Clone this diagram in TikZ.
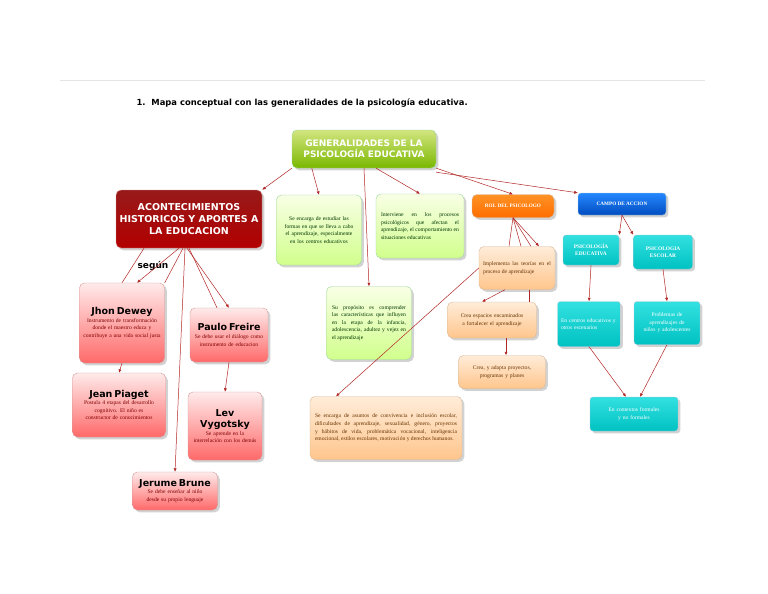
\documentclass[tikz,border=0pt]{standalone}
\usepackage{fontspec}
\setmainfont{Liberation Serif}
\newfontfamily\hd{DejaVu Sans}
\usetikzlibrary{shadows,arrows.meta}
\hyphenpenalty=10000
\exhyphenpenalty=10000
\newcommand\nmf{\hd\bfseries\fontsize{9.5}{11.5}\selectfont}
\begin{document}
\begin{tikzpicture}[x=1pt,y=-1pt,
 box/.style={draw=#1!60!black!40,rounded corners=5pt,drop shadow={opacity=0.35},align=center,inner sep=2pt,font=\fontsize{5.6}{7.6}\selectfont},
 rbox/.style={box=red,top color=red!8,bottom color=red!45!pink,text=red!50!black},
 gbox/.style={box=green,top color=lime!10!white,bottom color=lime!80!green!45,text=green!20!black},
 obox/.style={box=orange,top color=orange!15,bottom color=orange!45,text=orange!40!black},
 bbox/.style={box=cyan,top color=cyan!70!teal!80,bottom color=cyan!60!teal!95!black,text=white,rounded corners=3pt},
 ar/.style={draw=red!65!black!85,-{Latex[length=3.5pt,width=3pt]},line width=0.5pt},
 ln/.style={draw=red!65!black!85,line width=0.5pt}]
\useasboundingbox (0,0) rectangle (768,594);
\fill[white] (0,0) rectangle (768,594);
\draw[gray!20,line width=0.8pt] (60,80) -- (705,80);
\node[anchor=west,font=\hd\bfseries\fontsize{8.4}{10}\selectfont] (title) at (133,103) {1.\ \ Mapa conceptual con las generalidades de la psicología educativa.};

\node[box=green,top color=lime!60!olive!50,bottom color=olive!70!green!80,text=white,minimum width=144,minimum height=38,font=\hd\bfseries\fontsize{9}{11}\selectfont] (root) at (364,149) {GENERALIDADES DE LA\\PSICOLOGÍA EDUCATIVA};

\node[box=red,top color=red!55!black!90,bottom color=red!70!black,text=white,minimum width=146,minimum height=58,font=\hd\bfseries\fontsize{9.5}{12}\selectfont] (acon) at (189,219) {ACONTECIMIENTOS\\HISTORICOS Y APORTES A\\LA EDUCACION};
\node[font=\hd\bfseries\fontsize{9}{10}\selectfont] (seg) at (153,266) {según};

\node[rbox,minimum width=85,minimum height=80,text width=78] (dew) at (122,323) {{\nmf\color{black} Jhon Dewey\par}Instrumento de transformación donde el maestro educa y contribuye a una vida social justa};
\node[rbox,minimum width=78,minimum height=54,text width=72] (fre) at (229,335) {{\nmf\color{black} Paulo Freire\par}Se debe usar el diálogo como instrumento de educacion};
\node[rbox,minimum width=93,minimum height=64,text width=82] (pia) at (119,405) {{\nmf\color{black} Jean Piaget\par}Postula 4 etapas del desarrollo cognitivo. El niño es constructor de conocimientos};
\node[rbox,minimum width=74,minimum height=68,text width=68] (lev) at (225,426) {{\nmf\color{black} Lev\\Vygotsky\par}Se aprende en la interrelación con los demás};
\node[rbox,minimum width=85,minimum height=38,text width=80] (jer) at (175,491) {{\nmf\color{black} Jerume Brune\par}Se debe enseñar al niño desde su propio lenguaje};

\node[gbox,minimum width=85,minimum height=70,text width=72] (g1) at (319,230) {Se encarga de estudiar las formas en que se lleva a cabo el aprendizaje, especialmente en los centros educativos};
\node[gbox,minimum width=88,minimum height=64,text width=78,align=justify] (g2) at (420,226) {Interviene en los procesos psicológicos que afectan el aprendizaje, el comportamiento en situaciones educativas};
\node[gbox,minimum width=85,minimum height=73,text width=74,align=justify] (g3) at (369,323) {Su propósito es comprender las características que influyen en la etapa de la infancia, adolescencia, adultez y vejez en el aprendizaje};

\node[box=orange,top color=orange!85,bottom color=orange!85!red,text=white,minimum width=82,minimum height=23,font=\bfseries\fontsize{5.2}{6}\selectfont] (rol) at (513,206) {ROL DEL PSICOLOGO};
\node[obox,minimum width=76,minimum height=43,text width=68,align=justify] (imp) at (517,268) {Implementa las teorías en el proceso de aprendizaje};
\node[obox,minimum width=89,minimum height=36,text width=82] (esp) at (492,320) {Crea espacios encaminados a fortalecer el aprendizaje};
\node[obox,minimum width=87,minimum height=33,text width=78] (ada) at (502,372) {Crea, y adapta proyectos, programas y planes};
\node[obox,minimum width=152,minimum height=63,text width=142,align=justify] (asu) at (386,428) {Se encarga de asuntos de convivencia e inclusión escolar, dificultades de aprendizaje, sexualidad, género, proyectos y hábitos de vida, problemática vocacional, inteligencia emocional, estilos escolares, motivación y derechos humanos.};

\node[bbox,top color=blue!55!cyan!85,bottom color=blue!60!cyan!75!black,minimum width=88,minimum height=22,font=\bfseries\fontsize{5.2}{6}\selectfont] (cam) at (622,204) {CAMPO DE ACCION};
\node[bbox,minimum width=56,minimum height=30,font=\bfseries\fontsize{5.4}{7}\selectfont] (pe) at (591,250) {PSICOLOGÍA\\EDUCATIVA};
\node[bbox,minimum width=59,minimum height=34,font=\bfseries\fontsize{5.4}{7}\selectfont] (pes) at (663,252) {PSICOLOGIA\\ESCOLAR};
\node[bbox,minimum width=63,minimum height=45,text width=56,align=left] (cen) at (589,324) {En centros educativos y otros escenarios};
\node[bbox,minimum width=66,minimum height=43,text width=60] (pro) at (667,323) {Problemas de aprendizajes de niños y adolescentes};
\node[bbox,minimum width=88,minimum height=34,text width=80] (ctx) at (634,414) {En contextos formales y no formales};

\draw[ar] (root.south west) -- (acon.north east);
\draw[ar] ([xshift=20]root.south west) -- (g1.north);
\draw[ar] (root.south) -- (g3.north);
\draw[ar] ([xshift=12]root.south) -- (g2.north);
\draw[ar] (root.south east) -- (rol.north);
\draw[ar] ([yshift=-4]root.south east) -- (cam.north west);

\draw[ln] ([xshift=-45]acon.south) -- (dew.north);
\draw[ar] ([xshift=-10]acon.south) -- ([xshift=15]dew.north);
\draw[ln] ([xshift=-6]acon.south) -- (dew.north east);
\draw[ar] ([xshift=-4]acon.south) -- (jer.north);
\draw[ar] ([xshift=-2]acon.south) -- (fre.north);
\draw[ln] (acon.south) -- ([xshift=-12]fre.north);
\draw[ar] (dew.south) -- (pia.north);
\draw[ar] (fre.south) -- (lev.north);

\draw[ar] (rol.south) -- ([xshift=22]imp.north);
\draw[ln] (rol.south) -- ([xshift=-8]imp.north);
\draw[ln] (rol.south) -- ([xshift=4]imp.north);
\draw[ln] (rol.south) -- ([xshift=14]imp.north);
\draw[ar] ([xshift=-12]imp.south) -- ([xshift=-10]esp.north);
\draw[ar] (imp.west) -- ([xshift=-50]asu.north);
\draw[ar] ([xshift=14]esp.south) -- ([xshift=4]ada.north);
\draw[ln] ([xshift=12]imp.south) -- ([xshift=37]esp.north);

\draw[ar] (cam.south) -- (pe.north east);
\draw[ar] (cam.south) -- (pes.north west);
\draw[ar] (pe.south) -- (cen.north);
\draw[ar] (pes.south) -- (pro.north);
\draw[ar] (cen.south) -- ([xshift=-8]ctx.north);
\draw[ar] (pro.south) -- ([xshift=6]ctx.north);
\end{tikzpicture}
\end{document}
